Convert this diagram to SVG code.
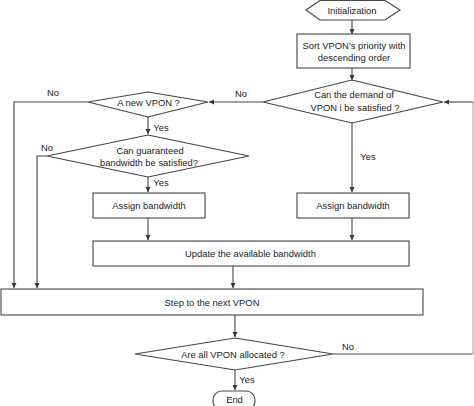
<svg xmlns="http://www.w3.org/2000/svg" width="474" height="406" viewBox="0 0 474 406">
<defs>
<marker id="ah" markerUnits="userSpaceOnUse" markerWidth="6" markerHeight="6" refX="5" refY="3" orient="auto">
<path d="M0,0.5 L5,3 L0,5.5 Z" fill="#333"/>
</marker>
<style>
.shape{fill:#fff;stroke:#444;stroke-width:1.1}
.t{font-family:"Liberation Sans",Arial,sans-serif;font-size:9.4px;fill:#222;text-anchor:middle}
.lbl{font-family:"Liberation Sans",Arial,sans-serif;font-size:9.4px;fill:#222;text-anchor:middle}
.c{fill:none;stroke:#444;stroke-width:1.1;marker-end:url(#ah)}
.cn{fill:none;stroke:#444;stroke-width:1.1}
</style>
</defs>
<rect width="474" height="406" fill="#fff"/>
<g id="connectors">
<path class="c" d="M352,20 V34"/>
<path class="c" d="M352,68 V80"/>
<path class="c" d="M263,102 H209"/>
<path class="c" d="M88,102 H14 V288"/>
<path class="c" d="M148,117 V134"/>
<path class="c" d="M47,156 H37 V288"/>
<path class="c" d="M148,177 V192"/>
<path class="c" d="M352,123 V192"/>
<path class="c" d="M148,218 V240"/>
<path class="c" d="M352,218 V240"/>
<path class="c" d="M233,266 V288"/>
<path class="c" d="M235,315 V337"/>
<path class="cn" d="M333,354 H473"/>
<path class="cn" d="M473,354 V102" style="stroke:#aaa"/>
<path class="c" d="M473,102 H444"/>
<path class="c" d="M235,370 V390"/>
<text class="lbl" x="53" y="96">No</text>
<text class="lbl" x="241" y="97">No</text>
<text class="lbl" x="161" y="131">Yes</text>
<text class="lbl" x="47" y="151">No</text>
<text class="lbl" x="161" y="186">Yes</text>
<text class="lbl" x="368" y="160">Yes</text>
<text class="lbl" x="348" y="350">No</text>
<text class="lbl" x="247" y="383">Yes</text>
</g>
<g id="init">
<polygon class="shape" points="306,10 320,0.5 385,0.5 400,10 385,20 320,20"/>
<text class="t" x="352" y="13.5">Initialization</text>
</g>
<g id="sort">
<rect class="shape" x="297" y="34" width="113" height="34"/>
<text class="t" x="354" y="48.5">Sort VPON’s priority with</text>
<text class="t" x="354" y="60.5">descending order</text>
</g>
<g id="demand">
<polygon class="shape" points="352,80 443,102 352,123 263,102"/>
<text class="t" x="354" y="98">Can the demand of</text>
<text class="t" x="355" y="111">VPON i be satisfied ?</text>
</g>
<g id="newvpon">
<polygon class="shape" points="148,92 208,102 148,117 88,102"/>
<text class="t" x="148.5" y="106">A new VPON ?</text>
</g>
<g id="guaranteed">
<polygon class="shape" points="148,135 249,156 148,177 47,156"/>
<text class="t" x="150" y="154">Can guaranteed</text>
<text class="t" x="149" y="165.5">bandwidth be satisfied?</text>
</g>
<g id="assign1">
<rect class="shape" x="93" y="193" width="112" height="25"/>
<text class="t" x="149" y="209">Assign bandwidth</text>
</g>
<g id="assign2">
<rect class="shape" x="297" y="193" width="112" height="25"/>
<text class="t" x="353" y="209">Assign bandwidth</text>
</g>
<g id="update">
<rect class="shape" x="93" y="241" width="316" height="25"/>
<text class="t" x="250.5" y="257">Update the available bandwidth</text>
</g>
<g id="step">
<rect class="shape" x="1" y="289" width="422" height="26"/>
<text class="t" x="212" y="306">Step to the next VPON</text>
</g>
<g id="allocated">
<polygon class="shape" points="235,338 333,354 235,370 135,354"/>
<text class="t" x="233" y="358">Are all VPON allocated ?</text>
</g>
<g id="end">
<rect class="shape" x="213" y="391" width="42" height="19" rx="9" ry="9"/>
<text class="t" x="234.5" y="403">End</text>
</g>
</svg>
